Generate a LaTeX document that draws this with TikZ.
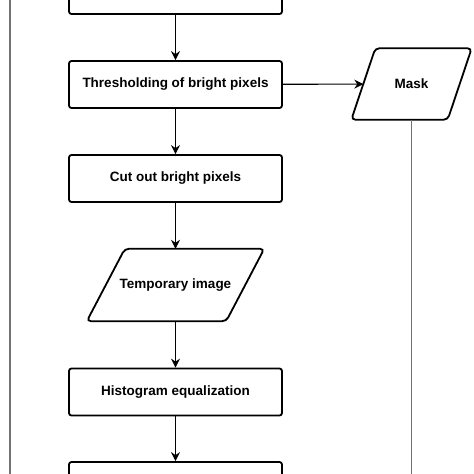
\documentclass[tikz,border=0pt]{standalone}
\usepackage{fontspec}
\setmainfont{Liberation Sans}
\usetikzlibrary{arrows.meta}
\begin{document}
\begin{tikzpicture}[x=1pt,y=-1pt,
  labelfont/.style={font=\bfseries\fontsize{13.5}{15}\selectfont},
  procbox/.style={draw=black,line width=1.8pt,rounded corners=2.5pt,minimum width=213pt,minimum height=47pt,inner sep=0pt,labelfont},
  iobox/.style={inner sep=0pt,labelfont},
  iodraw/.style={draw=black,line width=1.8pt,rounded corners=4pt},
  flow/.style={line width=1.1pt,-{Stealth[length=9pt,width=9pt,inset=3pt]}},
  loopline/.style={draw=black!55,line width=1.4pt}]
\useasboundingbox (0,0) rectangle (474,474);
\node[procbox] (top) at (175.5,-9.5) {};
\node[procbox] (thresh) at (175.5,84.5) {Thresholding of bright pixels};
\node[procbox] (cut) at (175.5,178.5) {Cut out bright pixels};
\node[iobox,minimum width=139pt,minimum height=72pt] (temp) at (175.5,285) {Temporary image};
\draw[iodraw] ([xshift=19pt]temp.north west) -- ([xshift=19pt]temp.north east) -- ([xshift=-19pt]temp.south east) -- ([xshift=-19pt]temp.south west) -- cycle;
\node[procbox] (hist) at (175.5,392) {Histogram equalization};
\node[procbox] (bottom) at (175.5,485.5) {};
\node[iobox,minimum width=96pt,minimum height=71pt] (mask) at (411.5,84) {Mask};
\draw[iodraw] ([xshift=12pt]mask.north west) -- ([xshift=12pt]mask.north east) -- ([xshift=-12pt]mask.south east) -- ([xshift=-12pt]mask.south west) -- cycle;
\coordinate (ltop) at (10,-5);
\coordinate (lbot) at (10,480);
\coordinate (rbot) at (411.5,480);
\draw[flow] (top) -- (thresh);
\draw[flow] (thresh) -- (cut);
\draw[flow] (cut) -- (temp);
\draw[flow] (temp) -- (hist);
\draw[flow] (hist) -- (bottom);
\draw[flow] (thresh) -- (mask);
\draw[loopline] (mask.south) -- (rbot);
\draw[loopline] (ltop) -- (lbot);
\end{tikzpicture}
\end{document}
